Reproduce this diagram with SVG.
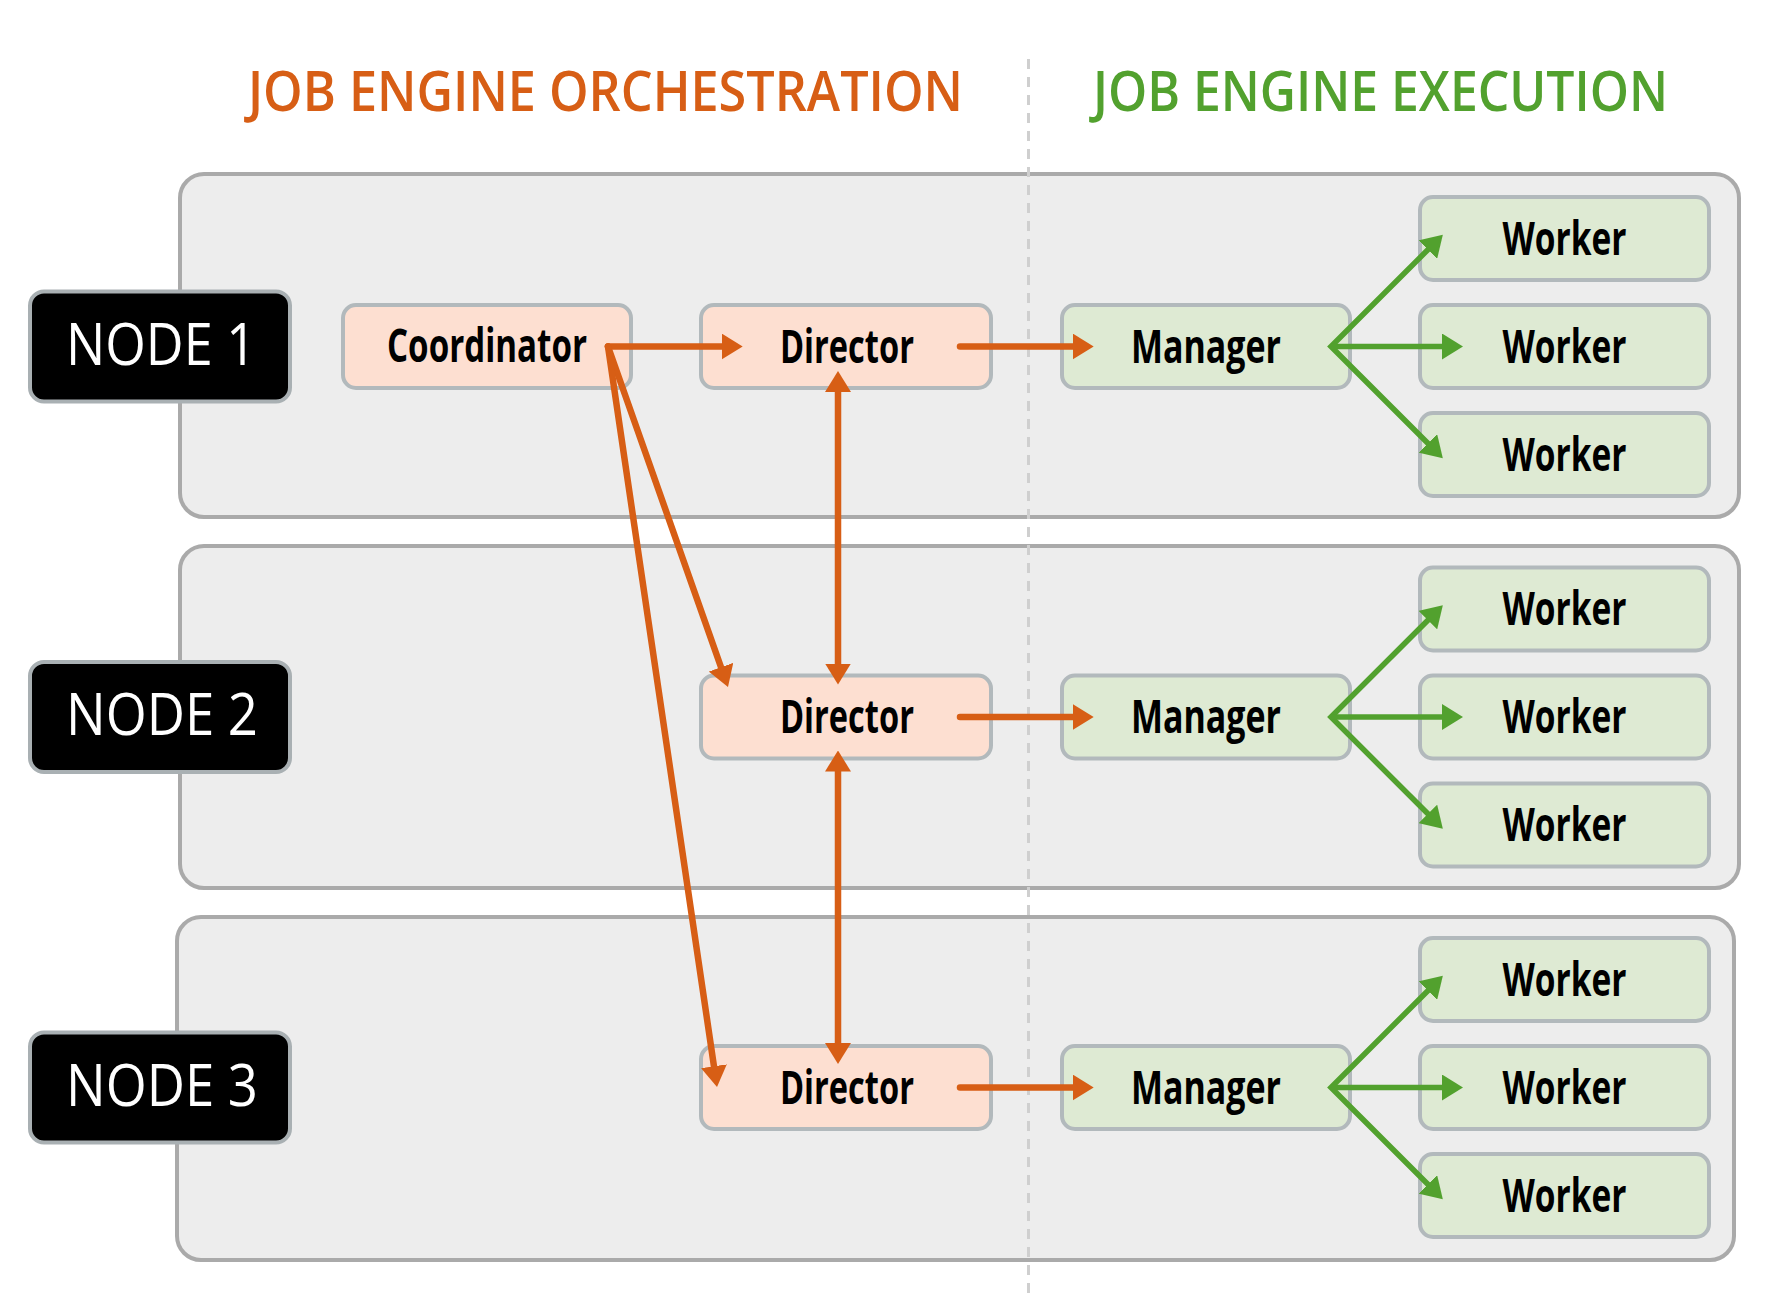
<svg xmlns="http://www.w3.org/2000/svg" width="1768" height="1301" viewBox="0 0 1768 1301">
<defs>
<style>
.title{font-family:"Open Sans","Noto Sans","DejaVu Sans",sans-serif;font-size:56px;font-weight:600}
.container{fill:#EDEDED;stroke:#AAAAAA;stroke-width:4}
.nodelabel{fill:#000000;stroke:#A9B0B3;stroke-width:4}
.nodetext{font-family:"Open Sans","Noto Sans","DejaVu Sans",sans-serif;font-size:58px;font-weight:500;fill:#FFFFFF}
.obox{fill:#FDDFD1;stroke:#B2B9BC;stroke-width:4}
.gbox{fill:#DEEAD3;stroke:#B2B9BC;stroke-width:4}
.label{font-family:"Open Sans","Noto Sans","DejaVu Sans",sans-serif;font-size:46px;font-weight:700;fill:#000000}
.oline{stroke:#D75E15;stroke-width:6.5;fill:none;stroke-linecap:round}
.gline{stroke:#52A12E;stroke-width:5.5;fill:none;stroke-linejoin:miter}
.divider{stroke:#CFCFCF;stroke-width:3;stroke-dasharray:10 8}
</style>
<marker id="ah-o" markerUnits="userSpaceOnUse" markerWidth="21" markerHeight="26" refX="3" refY="13" orient="auto-start-reverse" viewBox="0 0 21 26">
<path d="M0,0 L21,13 L0,26 z" fill="#D75E15"/>
</marker>
<marker id="ah-g" markerUnits="userSpaceOnUse" markerWidth="21" markerHeight="26" refX="3" refY="13" orient="auto-start-reverse" viewBox="0 0 21 26">
<path d="M0,0 L21,13 L0,26 z" fill="#52A12E"/>
</marker>
</defs>
<rect width="1768" height="1301" fill="#FFFFFF"/>

<g id="titles">
<text class="title" x="248" y="111" fill="#D75E15" textLength="715" lengthAdjust="spacingAndGlyphs">JOB ENGINE ORCHESTRATION</text>
<text class="title" x="1093" y="111" fill="#52A12E" textLength="575" lengthAdjust="spacingAndGlyphs">JOB ENGINE EXECUTION</text>
</g>

<g id="containers">
<rect id="container-1" class="container" x="180" y="174" width="1559" height="343" rx="24"/>
<rect id="container-2" class="container" x="180" y="546" width="1559" height="342" rx="24"/>
<rect id="container-3" class="container" x="177" y="917" width="1557" height="343" rx="24"/>
</g>

<line id="divider" class="divider" x1="1028.5" y1="59" x2="1028.5" y2="1301"/>

<g id="node-1-label">
<rect class="nodelabel" x="30" y="291.5" width="260" height="110" rx="14"/>
<text class="nodetext" x="66" y="364.5" textLength="190" lengthAdjust="spacingAndGlyphs">NODE 1</text>
</g>
<g id="node-2-label">
<rect class="nodelabel" x="30" y="662" width="260" height="110" rx="14"/>
<text class="nodetext" x="66" y="735" textLength="192" lengthAdjust="spacingAndGlyphs">NODE 2</text>
</g>
<g id="node-3-label">
<rect class="nodelabel" x="30" y="1032.5" width="260" height="110" rx="14"/>
<text class="nodetext" x="66" y="1105.5" textLength="192" lengthAdjust="spacingAndGlyphs">NODE 3</text>
</g>

<g id="coordinator">
<rect class="obox" x="343" y="305" width="288" height="83" rx="13"/>
<text class="label" x="387" y="362" textLength="200" lengthAdjust="spacingAndGlyphs">Coordinator</text>
</g>

<g id="director-1">
<rect class="obox" x="701" y="305" width="290" height="83" rx="13"/>
<text class="label" x="780" y="362.5" textLength="134" lengthAdjust="spacingAndGlyphs">Director</text>
</g>
<g id="director-2">
<rect class="obox" x="701" y="675.5" width="290" height="83" rx="13"/>
<text class="label" x="780" y="733" textLength="134" lengthAdjust="spacingAndGlyphs">Director</text>
</g>
<g id="director-3">
<rect class="obox" x="701" y="1046" width="290" height="83" rx="13"/>
<text class="label" x="780" y="1103.5" textLength="134" lengthAdjust="spacingAndGlyphs">Director</text>
</g>

<g id="manager-1">
<rect class="gbox" x="1062" y="305" width="288" height="83" rx="13"/>
<text class="label" x="1131" y="362.5" textLength="150" lengthAdjust="spacingAndGlyphs">Manager</text>
</g>
<g id="manager-2">
<rect class="gbox" x="1062" y="675.5" width="288" height="83" rx="13"/>
<text class="label" x="1131" y="733" textLength="150" lengthAdjust="spacingAndGlyphs">Manager</text>
</g>
<g id="manager-3">
<rect class="gbox" x="1062" y="1046" width="288" height="83" rx="13"/>
<text class="label" x="1131" y="1103.5" textLength="150" lengthAdjust="spacingAndGlyphs">Manager</text>
</g>

<g id="worker-1-1">
<rect class="gbox" x="1420" y="197" width="289" height="83" rx="13"/>
<text class="label" x="1502.5" y="254.5" textLength="124" lengthAdjust="spacingAndGlyphs">Worker</text>
</g>
<g id="worker-1-2">
<rect class="gbox" x="1420" y="305" width="289" height="83" rx="13"/>
<text class="label" x="1502.5" y="362.5" textLength="124" lengthAdjust="spacingAndGlyphs">Worker</text>
</g>
<g id="worker-1-3">
<rect class="gbox" x="1420" y="413" width="289" height="83" rx="13"/>
<text class="label" x="1502.5" y="470.5" textLength="124" lengthAdjust="spacingAndGlyphs">Worker</text>
</g>
<g id="worker-2-1">
<rect class="gbox" x="1420" y="567.5" width="289" height="83" rx="13"/>
<text class="label" x="1502.5" y="625" textLength="124" lengthAdjust="spacingAndGlyphs">Worker</text>
</g>
<g id="worker-2-2">
<rect class="gbox" x="1420" y="675.5" width="289" height="83" rx="13"/>
<text class="label" x="1502.5" y="733" textLength="124" lengthAdjust="spacingAndGlyphs">Worker</text>
</g>
<g id="worker-2-3">
<rect class="gbox" x="1420" y="783.5" width="289" height="83" rx="13"/>
<text class="label" x="1502.5" y="841" textLength="124" lengthAdjust="spacingAndGlyphs">Worker</text>
</g>
<g id="worker-3-1">
<rect class="gbox" x="1420" y="938" width="289" height="83" rx="13"/>
<text class="label" x="1502.5" y="995.5" textLength="124" lengthAdjust="spacingAndGlyphs">Worker</text>
</g>
<g id="worker-3-2">
<rect class="gbox" x="1420" y="1046" width="289" height="83" rx="13"/>
<text class="label" x="1502.5" y="1103.5" textLength="124" lengthAdjust="spacingAndGlyphs">Worker</text>
</g>
<g id="worker-3-3">
<rect class="gbox" x="1420" y="1154" width="289" height="83" rx="13"/>
<text class="label" x="1502.5" y="1211.5" textLength="124" lengthAdjust="spacingAndGlyphs">Worker</text>
</g>

<g id="connectors">
<line class="oline" x1="608" y1="346.5" x2="724.7" y2="346.5" marker-end="url(#ah-o)"/>
<line class="oline" x1="608" y1="346.5" x2="722" y2="670" marker-end="url(#ah-o)"/>
<line class="oline" x1="608" y1="346.5" x2="714.4" y2="1069.2" marker-end="url(#ah-o)"/>
<line class="oline" x1="838" y1="389" x2="838" y2="666.5" marker-start="url(#ah-o)" marker-end="url(#ah-o)"/>
<line class="oline" x1="838" y1="768.5" x2="838" y2="1046" marker-start="url(#ah-o)" marker-end="url(#ah-o)"/>
<line class="oline" x1="960" y1="346.5" x2="1075.7" y2="346.5" marker-end="url(#ah-o)"/>
<line class="oline" x1="960" y1="717" x2="1075.7" y2="717" marker-end="url(#ah-o)"/>
<line class="oline" x1="960" y1="1087.5" x2="1075.7" y2="1087.5" marker-end="url(#ah-o)"/>

<path class="gline" d="M1430.1,247.5 L1331,346.5 L1430.1,445.5" marker-start="url(#ah-g)" marker-end="url(#ah-g)"/>
<line class="gline" x1="1331" y1="346.5" x2="1445" y2="346.5" marker-end="url(#ah-g)"/>
<path class="gline" d="M1430.1,618 L1331,717 L1430.1,816" marker-start="url(#ah-g)" marker-end="url(#ah-g)"/>
<line class="gline" x1="1331" y1="717" x2="1445" y2="717" marker-end="url(#ah-g)"/>
<path class="gline" d="M1430.1,988.5 L1331,1087.5 L1430.1,1186.5" marker-start="url(#ah-g)" marker-end="url(#ah-g)"/>
<line class="gline" x1="1331" y1="1087.5" x2="1445" y2="1087.5" marker-end="url(#ah-g)"/>
</g>
</svg>
